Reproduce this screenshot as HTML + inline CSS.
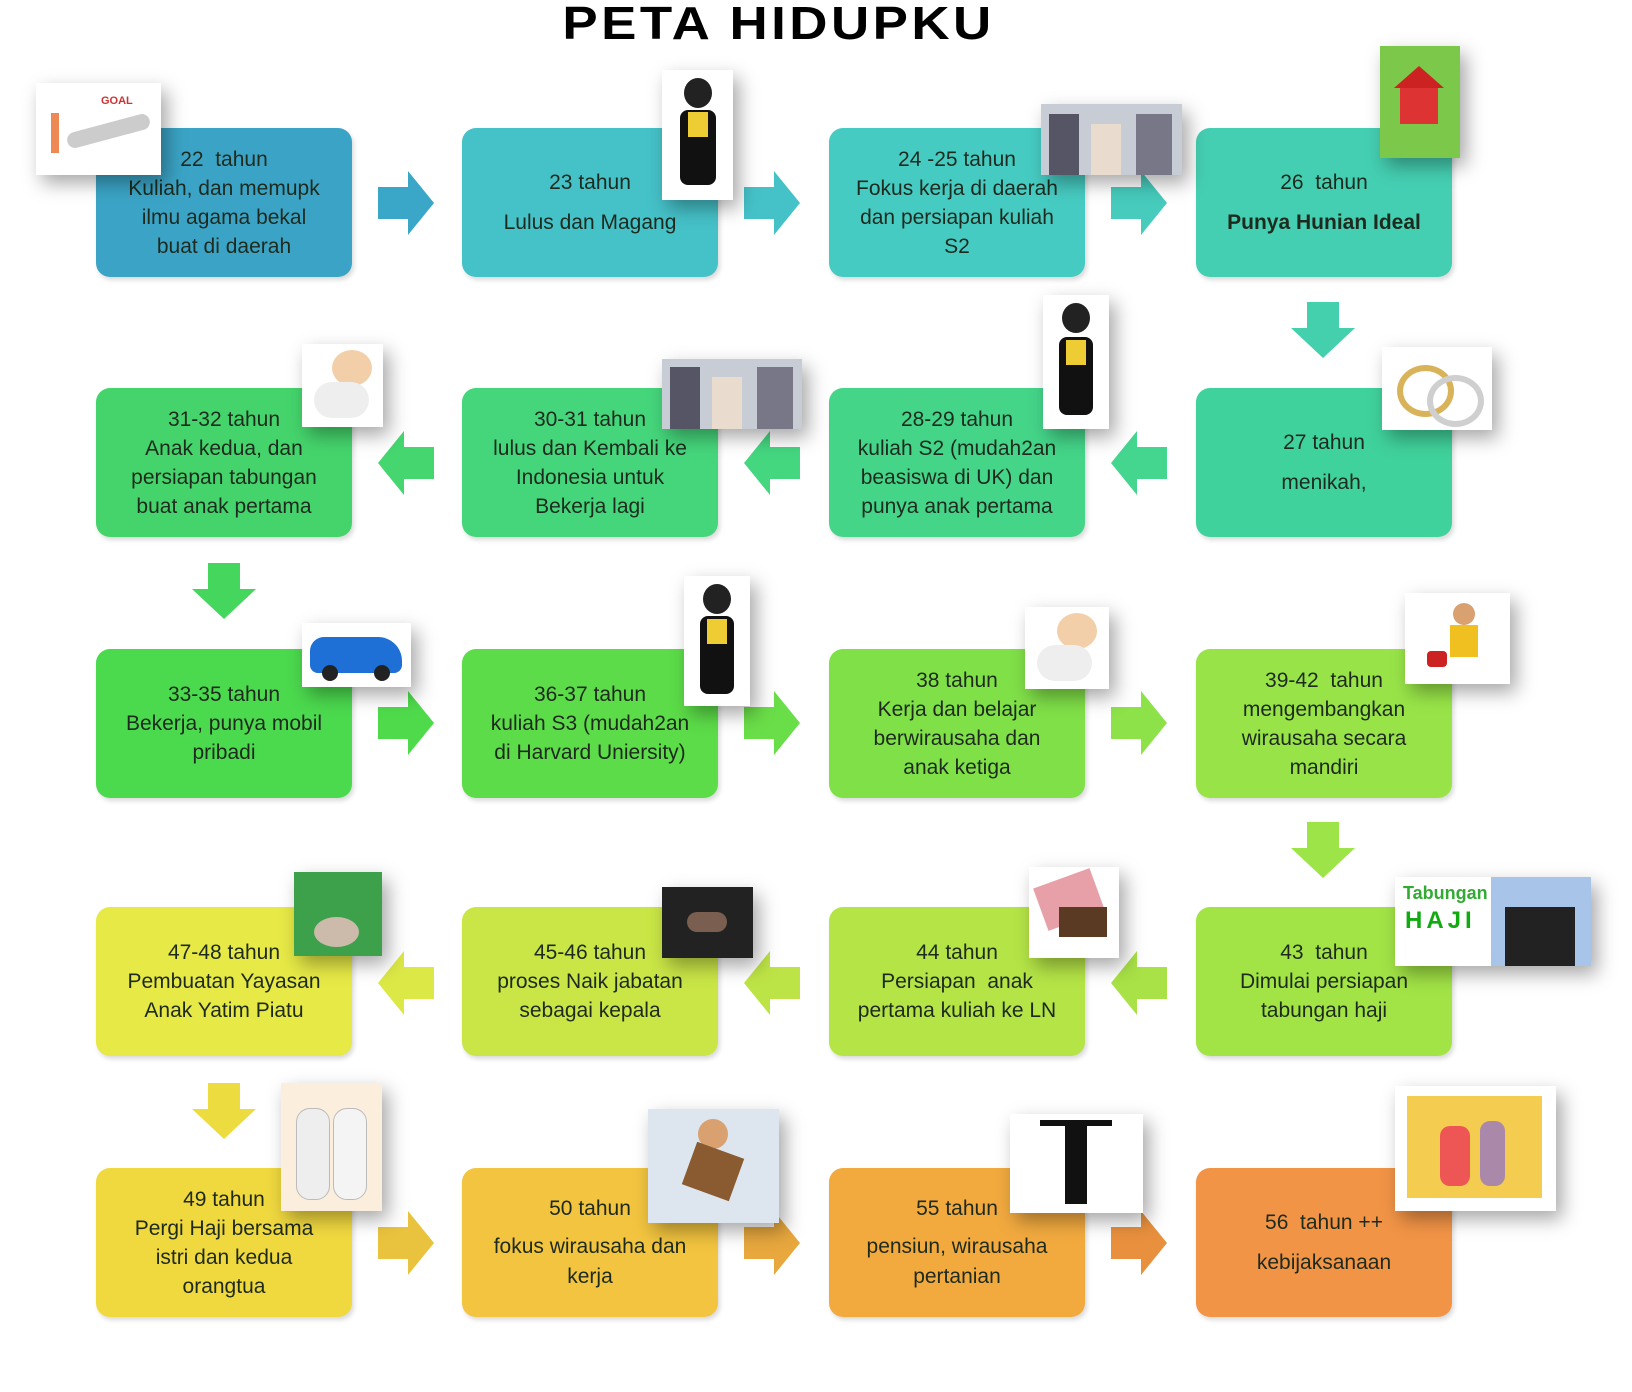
<!DOCTYPE html>
<html><head><meta charset="utf-8"><style>
body{margin:0;width:1632px;height:1392px;background:#fff;position:relative;overflow:hidden;font-family:"Liberation Sans",sans-serif;}
.t{position:absolute;left:573px;top:0;width:411px;text-align:center;font-weight:bold;font-size:46px;line-height:46px;letter-spacing:3px;color:#000;transform:scaleX(1.15);}
.b{position:absolute;width:256px;height:149px;border-radius:14px;display:flex;flex-direction:column;justify-content:center;align-items:center;text-align:center;font-size:21px;line-height:29px;color:#1e2a1e;box-shadow:2px 3px 5px rgba(0,0,0,.15);}
.b.w{line-height:40px}
.p{position:absolute;background:#fff;box-shadow:6px 8px 18px rgba(0,0,0,.35);overflow:hidden}
svg.a{position:absolute}
</style></head><body>
<div class="t">PETA HIDUPKU</div>

<!-- row1 -->
<div class="b" style="left:96px;top:128px;background:#3ba4c6">22&nbsp; tahun<br>Kuliah, dan memupk<br>ilmu agama bekal<br>buat di daerah</div>
<div class="b w" style="left:462px;top:128px;background:#45c1c8">23 tahun<br>Lulus dan Magang</div>
<div class="b" style="left:829px;top:128px;background:#46cbc2">24 -25 tahun<br>Fokus kerja di daerah<br>dan persiapan kuliah<br>S2</div>
<div class="b w" style="left:1196px;top:128px;background:#45cfb2">26&nbsp; tahun<br><b>Punya Hunian Ideal</b></div>
<!-- row2 -->
<div class="b" style="left:96px;top:388px;background:#45d46c">31-32 tahun<br>Anak kedua, dan<br>persiapan tabungan<br>buat anak pertama</div>
<div class="b" style="left:462px;top:388px;background:#45d67b">30-31 tahun<br>lulus dan Kembali ke<br>Indonesia untuk<br>Bekerja lagi</div>
<div class="b" style="left:829px;top:388px;background:#44d589">28-29 tahun<br>kuliah S2 (mudah2an<br>beasiswa di UK) dan<br>punya anak pertama</div>
<div class="b w" style="left:1196px;top:388px;background:#40d29c">27 tahun<br>menikah,</div>
<!-- row3 -->
<div class="b" style="left:96px;top:649px;background:#4bd94e">33-35 tahun<br>Bekerja, punya mobil<br>pribadi</div>
<div class="b" style="left:462px;top:649px;background:#5cdc48">36-37 tahun<br>kuliah S3 (mudah2an<br>di Harvard Uniersity)</div>
<div class="b" style="left:829px;top:649px;background:#80e048">38 tahun<br>Kerja dan belajar<br>berwirausaha dan<br>anak ketiga</div>
<div class="b" style="left:1196px;top:649px;background:#98e448">39-42&nbsp; tahun<br>mengembangkan<br>wirausaha secara<br>mandiri</div>
<!-- row4 -->
<div class="b" style="left:96px;top:907px;background:#e6e946">47-48 tahun<br>Pembuatan Yayasan<br>Anak Yatim Piatu</div>
<div class="b" style="left:462px;top:907px;background:#c9e646">45-46 tahun<br>proses Naik jabatan<br>sebagai kepala</div>
<div class="b" style="left:829px;top:907px;background:#b4e446">44 tahun<br>Persiapan&nbsp; anak<br>pertama kuliah ke LN</div>
<div class="b" style="left:1196px;top:907px;background:#a2e446">43&nbsp; tahun<br>Dimulai persiapan<br>tabungan haji</div>
<!-- row5 -->
<div class="b" style="left:96px;top:1168px;background:#f0d83f">49 tahun<br>Pergi Haji bersama<br>istri dan kedua<br>orangtua</div>
<div class="b w" style="left:462px;top:1168px;background:#f2c43f;line-height:30px">50 tahun<br><span style="display:block;height:8px"></span>fokus wirausaha dan<br>kerja</div>
<div class="b" style="left:829px;top:1168px;background:#f2aa3f;line-height:30px">55 tahun<br><span style="display:block;height:8px"></span>pensiun, wirausaha<br>pertanian</div>
<div class="b w" style="left:1196px;top:1168px;background:#f29446">56&nbsp; tahun ++<br>kebijaksanaan</div>

<!-- arrows -->
<svg class="a" width="1632" height="1392" style="left:0;top:0">
<defs>
<path id="r" d="M-28,-16 H2 V-32 L28,0 L2,32 V16 H-28 Z"/>
<path id="l" d="M28,-16 H-2 V-32 L-28,0 L-2,32 V16 H28 Z"/>
<path id="d" d="M-16,-28 H16 V-2 H32 L0,28 L-32,-2 H-16 Z"/>
</defs>
<use href="#r" x="406" y="203" fill="#3aa6c8"/>
<use href="#r" x="772" y="203" fill="#45c2c8"/>
<use href="#r" x="1139" y="203" fill="#46cbbc"/>
<use href="#d" x="1323" y="330" fill="#44d0ac"/>
<use href="#l" x="1139" y="463" fill="#44d58e"/>
<use href="#l" x="772" y="463" fill="#45d680"/>
<use href="#l" x="406" y="463" fill="#45d670"/>
<use href="#d" x="224" y="591" fill="#45d65e"/>
<use href="#r" x="406" y="723" fill="#4fda4c"/>
<use href="#r" x="772" y="723" fill="#6ade48"/>
<use href="#r" x="1139" y="723" fill="#8ce248"/>
<use href="#d" x="1323" y="850" fill="#9ce448"/>
<use href="#l" x="1139" y="983" fill="#a8e246"/>
<use href="#l" x="772" y="983" fill="#bde446"/>
<use href="#l" x="406" y="983" fill="#dbe846"/>
<use href="#d" x="224" y="1111" fill="#ecdc40"/>
<use href="#r" x="406" y="1243" fill="#e9c23e"/>
<use href="#r" x="772" y="1243" fill="#e8a83e"/>
<use href="#r" x="1139" y="1243" fill="#e8903e"/>
</svg>

<!-- pictures -->
<div class="p" style="left:36px;top:83px;width:125px;height:92px"><div style="position:absolute;left:15px;top:30px;width:8px;height:40px;background:#e85"></div><div style="position:absolute;left:30px;top:40px;width:85px;height:16px;background:#ccc;border-radius:8px;transform:rotate(-15deg)"></div><div style="position:absolute;left:65px;top:12px;font-size:11px;font-weight:bold;color:#c33">GOAL</div></div>
<div class="p" style="left:662px;top:70px;width:71px;height:130px"><div style="position:absolute;left:18px;top:40px;width:36px;height:75px;background:#111;border-radius:8px"></div><div style="position:absolute;left:22px;top:8px;width:28px;height:30px;background:#222;border-radius:50%"></div><div style="position:absolute;left:26px;top:42px;width:20px;height:25px;background:#ec3"></div></div>
<div class="p" style="left:1041px;top:104px;width:141px;height:71px;background:#c8ccd4"><div style="position:absolute;left:8px;top:10px;width:30px;height:61px;background:#556"></div><div style="position:absolute;left:50px;top:20px;width:30px;height:51px;background:#e9dccf"></div><div style="position:absolute;left:95px;top:10px;width:36px;height:61px;background:#778"></div></div>
<div class="p" style="left:1380px;top:46px;width:80px;height:112px;background:#7cc84a"><div style="position:absolute;left:20px;top:40px;width:38px;height:38px;background:#d33"></div><div style="position:absolute;left:14px;top:20px;width:0;height:0;border-left:25px solid transparent;border-right:25px solid transparent;border-bottom:22px solid #c22"></div></div>
<div class="p" style="left:1382px;top:347px;width:110px;height:83px"><div style="position:absolute;left:15px;top:18px;width:45px;height:40px;border:6px solid #d9b35a;border-radius:50%"></div><div style="position:absolute;left:45px;top:28px;width:45px;height:40px;border:6px solid #cfcfcf;border-radius:50%"></div></div>
<div class="p" style="left:1043px;top:295px;width:66px;height:134px"><div style="position:absolute;left:16px;top:42px;width:34px;height:78px;background:#111;border-radius:8px"></div><div style="position:absolute;left:19px;top:8px;width:28px;height:30px;background:#222;border-radius:50%"></div><div style="position:absolute;left:23px;top:45px;width:20px;height:25px;background:#ec3"></div></div>
<div class="p" style="left:662px;top:359px;width:140px;height:70px;background:#c8ccd4"><div style="position:absolute;left:8px;top:8px;width:30px;height:62px;background:#556"></div><div style="position:absolute;left:50px;top:18px;width:30px;height:52px;background:#e9dccf"></div><div style="position:absolute;left:95px;top:8px;width:36px;height:62px;background:#778"></div></div>
<div class="p" style="left:302px;top:344px;width:81px;height:83px"><div style="position:absolute;left:30px;top:6px;width:40px;height:36px;background:#f2cfa8;border-radius:50%"></div><div style="position:absolute;left:12px;top:38px;width:55px;height:36px;background:#eee;border-radius:18px"></div></div>
<div class="p" style="left:302px;top:623px;width:109px;height:64px"><div style="position:absolute;left:8px;top:14px;width:92px;height:36px;background:#1e6fd6;border-radius:14px 24px 8px 8px"></div><div style="position:absolute;left:20px;top:42px;width:16px;height:16px;background:#222;border-radius:50%"></div><div style="position:absolute;left:72px;top:42px;width:16px;height:16px;background:#222;border-radius:50%"></div></div>
<div class="p" style="left:684px;top:576px;width:66px;height:130px"><div style="position:absolute;left:16px;top:40px;width:34px;height:78px;background:#111;border-radius:8px"></div><div style="position:absolute;left:19px;top:8px;width:28px;height:30px;background:#222;border-radius:50%"></div><div style="position:absolute;left:23px;top:43px;width:20px;height:25px;background:#ec3"></div></div>
<div class="p" style="left:1025px;top:607px;width:84px;height:82px"><div style="position:absolute;left:32px;top:6px;width:40px;height:36px;background:#f2cfa8;border-radius:50%"></div><div style="position:absolute;left:12px;top:38px;width:55px;height:36px;background:#eee;border-radius:18px"></div></div>
<div class="p" style="left:1405px;top:593px;width:105px;height:91px"><div style="position:absolute;left:48px;top:10px;width:22px;height:22px;background:#d9a070;border-radius:50%"></div><div style="position:absolute;left:45px;top:32px;width:28px;height:32px;background:#f0c020"></div><div style="position:absolute;left:22px;top:58px;width:20px;height:16px;background:#c22;border-radius:4px"></div></div>
<div class="p" style="left:1395px;top:877px;width:196px;height:89px"><div style="position:absolute;left:8px;top:6px;font-size:18px;font-weight:bold;color:#3a3">Tabungan</div><div style="position:absolute;left:10px;top:30px;font-size:24px;font-weight:bold;color:#1a1;letter-spacing:4px">HAJI</div><div style="position:absolute;left:96px;top:0;width:100px;height:89px;background:#a8c4e8"></div><div style="position:absolute;left:110px;top:30px;width:70px;height:59px;background:#222"></div></div>
<div class="p" style="left:1029px;top:867px;width:90px;height:91px"><div style="position:absolute;left:10px;top:10px;width:60px;height:45px;background:#e8a0a8;transform:rotate(-20deg)"></div><div style="position:absolute;left:30px;top:40px;width:48px;height:30px;background:#5a3a22"></div></div>
<div class="p" style="left:662px;top:887px;width:91px;height:71px;background:#222"><div style="position:absolute;left:25px;top:25px;width:40px;height:20px;background:#7a5e50;border-radius:10px"></div></div>
<div class="p" style="left:294px;top:872px;width:88px;height:84px;background:#3da04a"><div style="position:absolute;left:20px;top:45px;width:45px;height:30px;background:#cba;border-radius:50%"></div></div>
<div class="p" style="left:281px;top:1083px;width:101px;height:128px;background:#fbeedd"><div style="position:absolute;left:15px;top:25px;width:32px;height:90px;background:#eee;border:1px solid #bbb;border-radius:14px"></div><div style="position:absolute;left:52px;top:25px;width:32px;height:90px;background:#f4f4f4;border:1px solid #bbb;border-radius:14px"></div></div>
<div class="p" style="left:648px;top:1109px;width:131px;height:114px;background:#dde6ee"><div style="position:absolute;left:50px;top:10px;width:30px;height:30px;background:#d9a070;border-radius:50%"></div><div style="position:absolute;left:40px;top:40px;width:50px;height:45px;background:#8a5a30;transform:rotate(20deg)"></div></div>
<div class="p" style="left:1010px;top:1114px;width:133px;height:99px"><div style="position:absolute;left:55px;top:10px;width:22px;height:80px;background:#111"></div><div style="position:absolute;left:30px;top:6px;width:72px;height:6px;background:#111"></div></div>
<div class="p" style="left:1395px;top:1086px;width:161px;height:125px"><div style="position:absolute;left:12px;top:10px;width:135px;height:102px;background:#f4cc50"></div><div style="position:absolute;left:45px;top:40px;width:30px;height:60px;background:#e55;border-radius:10px"></div><div style="position:absolute;left:85px;top:35px;width:25px;height:65px;background:#a8a;border-radius:10px"></div></div>
</body></html>
